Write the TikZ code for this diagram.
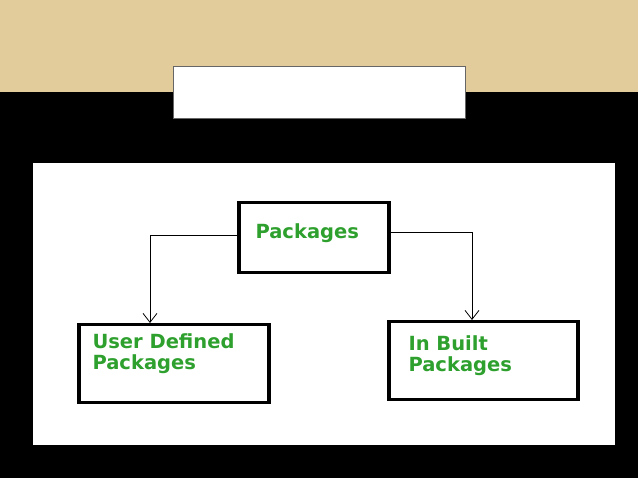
\documentclass[tikz,border=0pt]{standalone}
\usepackage{fontspec}
\setmainfont{DejaVu Sans}
\usetikzlibrary{arrows.meta}
\definecolor{beige}{RGB}{226,204,156}
\definecolor{txtgreen}{RGB}{46,160,46}
\tikzset{
  box/.style={draw=black,line width=3.5pt,fill=white},
  lbl/.style={text=txtgreen,font=\bfseries\fontsize{19.5}{21}\selectfont,align=left,anchor=north west},
  conn/.style={draw=black,line width=0.8pt,-{Straight Barb[length=9pt,width=14pt]}}
}
\begin{document}
\begin{tikzpicture}[x=1pt,y=-1pt]
\useasboundingbox (0,0) rectangle (638,478);
\fill[black] (0,0) rectangle (638,478);
\fill[beige] (0,0) rectangle (638,92);
\draw[fill=white,draw=black!60,line width=0.8pt] (173,66) rectangle (465,118);
\fill[white] (33,163) rectangle (615,445);
\node[box,minimum width=150,minimum height=70,anchor=north west] (pk) at (237,201) {};
\node[lbl] at (252,220) {Packages};
\node[box,minimum width=190,minimum height=78,anchor=north west] (ud) at (77,323) {};
\node[lbl] at (89,330) {User Defined\\Packages};
\node[box,minimum width=189,minimum height=78,anchor=north west] (ib) at (387,320) {};
\node[lbl] at (405,332) {In Built\\Packages};
\coordinate (l) at (150,235);
\coordinate (r) at (472,232);
\draw[conn] (pk.west |- l) -- (l) -- (ud.north -| l);
\draw[conn] (pk.east |- r) -- (r) -- (ib.north -| r);
\end{tikzpicture}
\end{document}
